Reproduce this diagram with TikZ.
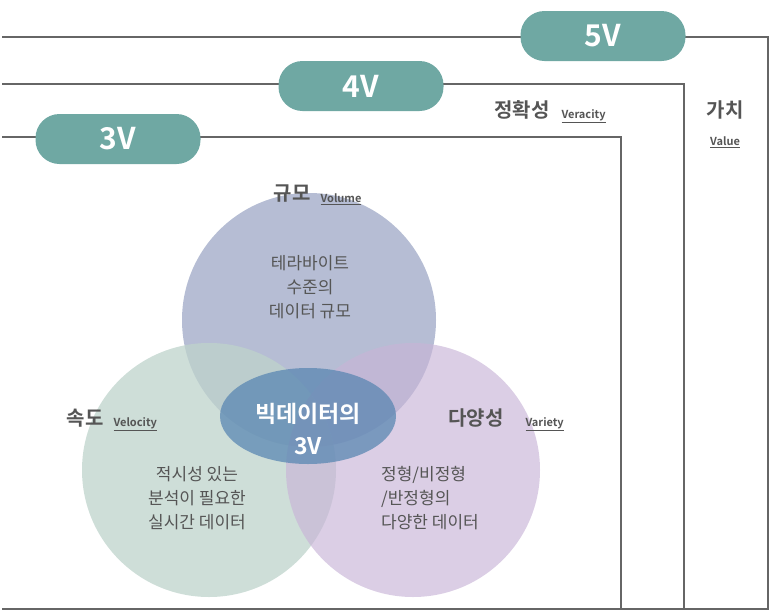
\documentclass[tikz,border=0pt]{standalone}
\usepackage{fontspec}
\setmainfont{Noto Sans CJK KR}
\newfontfamily\kb{Noto Sans CJK KR Bold}
\definecolor{pillc}{HTML}{6FA8A3}
\definecolor{darkg}{HTML}{555555}
\definecolor{ctop}{HTML}{A9B2CC}
\definecolor{cleft}{RGB}{190,211,203}
\definecolor{cright}{RGB}{200,180,215}
\definecolor{cmid}{RGB}{90,135,178}
\begin{document}
\begin{tikzpicture}[x=1pt,y=-1pt,
 frame/.style={draw=gray!80!black,line width=1.3pt},
 pill/.style={fill=pillc,rounded corners=24pt,minimum width=165pt,minimum height=50pt,text=white,font=\kb\fontsize{30}{32}\selectfont},
 ttl/.style={text=darkg,font=\kb\fontsize{20}{22}\selectfont,inner sep=0pt},
 sub/.style={font=\kb\fontsize{11}{12}\selectfont,text=darkg},
 body/.style={align=center,font=\fontsize{17}{24}\selectfont,text=darkg}]
\useasboundingbox (0,0) rectangle (774,611);
\draw[frame] (2,37) -- (768,37) -- (768,609) -- (2,609);
\draw[frame] (2,84) -- (684,84) -- (684,609);
\draw[frame] (2,137) -- (621,137) -- (621,609);
\node[pill] (p5) at (603,36) {5V};
\node[pill] (p4) at (361,86) {4V};
\node[pill] (p3) at (118,139) {3V};
\fill[fill=ctop,opacity=0.85] (309,320) circle (127);
\fill[fill=cleft,opacity=0.75] (209,470) circle (127);
\fill[fill=cright,opacity=0.65] (413,470) circle (127);
\fill[fill=cmid,opacity=0.75] (308,416) ellipse (88 and 48);
\node[ttl] (t1) at (292,194) {규모};
\node[sub,anchor=west] (s1) at (317,199) {\underline{Volume}};
\node[ttl] (t2) at (85,418) {속도};
\node[sub,anchor=west] (s2) at (110,424) {\underline{Velocity}};
\node[ttl] (t3) at (476,418) {다양성};
\node[sub,anchor=west] (s3) at (522,424) {\underline{Variety}};
\node[ttl] (t4) at (522,110) {정확성};
\node[sub,anchor=west] (s4) at (558,116) {\underline{Veracity}};
\node[ttl] (t5) at (725,110) {가치};
\node[sub] (s5) at (725,142) {\underline{Value}};
\node[body] (b1) at (310,287) {테라바이트\\수준의\\데이터 규모};
\node[body] (b2) at (197,498) {적시성 있는\\분석이 필요한\\실시간 데이터};
\node[body,align=left] (b3) at (430,498) {정형/비정형\\/반정형의\\다양한 데이터};
\node[align=center,text=white,font=\kb\fontsize{23}{32}\selectfont] (c) at (308,429) {빅데이터의\\3V};
\end{tikzpicture}
\end{document}
